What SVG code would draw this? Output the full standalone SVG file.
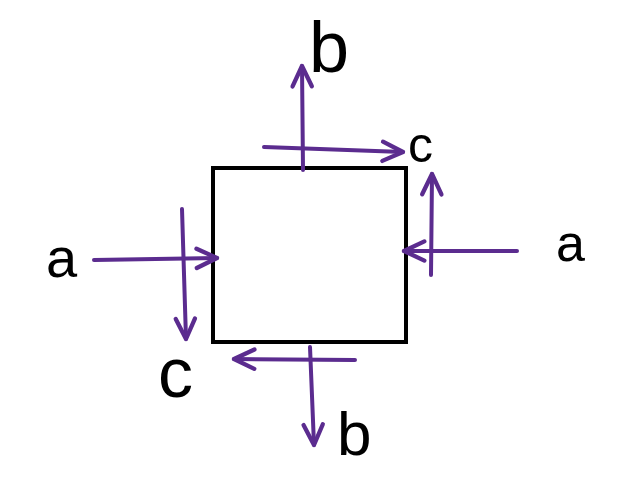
<svg xmlns="http://www.w3.org/2000/svg" width="623" height="482" viewBox="0 0 623 482">
<defs>
<style>
.arr{fill:none;stroke:#5b2c8f;stroke-width:4;stroke-linecap:round;stroke-linejoin:round;marker-end:url(#head)}
.lbl{font-family:"Liberation Sans",Arial,sans-serif;fill:#000}
</style>
<marker id="head" markerUnits="userSpaceOnUse" markerWidth="30" markerHeight="30" viewBox="-24 -12 28 24" refX="0" refY="0" orient="auto">
<path d="M-19,-9 L0,0 L-19,9" fill="none" stroke="#5b2c8f" stroke-width="4" stroke-linecap="round" stroke-linejoin="round"/>
</marker>
</defs>
<rect width="623" height="482" fill="#fff"/>
<g id="box"><rect x="213" y="168" width="193" height="174" fill="none" stroke="#000" stroke-width="4"/></g>
<g id="connectors">
<path class="arr" d="M303,170 L302,66"/>
<path class="arr" d="M264,147 L403,152"/>
<path class="arr" d="M431,275 L432,174"/>
<path class="arr" d="M517,251 L404,251"/>
<path class="arr" d="M94,260 L217,258"/>
<path class="arr" d="M182,209 L186,339"/>
<path class="arr" d="M355,360 L234,359"/>
<path class="arr" d="M310,347 L314,445"/>
</g>
<g id="label-b-top"><text class="lbl" x="309" y="72" font-size="72">b</text></g>
<g id="label-c-top"><text class="lbl" x="408" y="162" font-size="50">c</text></g>
<g id="label-a-left"><text class="lbl" x="46" y="277" font-size="56">a</text></g>
<g id="label-a-right"><text class="lbl" x="556" y="261" font-size="52">a</text></g>
<g id="label-c-bottom"><text class="lbl" x="158" y="397" font-size="70">c</text></g>
<g id="label-b-bottom"><text class="lbl" x="337" y="455" font-size="62">b</text></g>
</svg>
